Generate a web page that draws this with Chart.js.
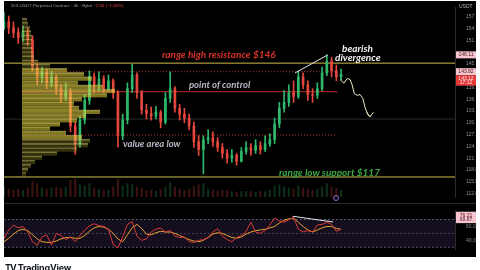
<!DOCTYPE html>
<html>
<head>
<meta charset="utf-8">
<script src="https://cdn.jsdelivr.net/npm/chart.js@4.4.1/dist/chart.umd.min.js"></script>
<style>
  body { margin: 0; width: 480px; height: 270px; background: #fff; position: relative; overflow: hidden; font-family: Lato, "Liberation Sans", sans-serif; }
  #panel { position: absolute; left: 4px; top: 1px; width: 472px; height: 256px; background: #000; }
  #panel canvas { position: absolute; left: 0; }
  #priceChart, #profileChart { top: 0; }
  #rsiChart { top: 203px; }
  #sep { position: absolute; left: 0; top: 202px; width: 472px; height: 1px; background: #2a2a2a; }
  .note { position: absolute; white-space: nowrap; line-height: 1; font-style: italic; font-weight: 700; font-size: 10px; }
  .tiny { position: absolute; white-space: nowrap; line-height: 1; font-family: "Liberation Sans", Arial, sans-serif; font-size: 4.4px; }
</style>
</head>
<body>
<div id="panel">
  <canvas id="priceChart" width="472" height="202"></canvas>
  <canvas id="profileChart" width="472" height="202"></canvas>
  <div id="sep"></div>
  <canvas id="rsiChart" width="472" height="53"></canvas>
</div>

<div class="tiny" style="left:11px;top:4px;color:#9598a1">SOLUSDT Perpetual Contract · 4h · Bybit <span style="color:#e0443c">−2.65 (−1.84%)</span></div>
<div class="tiny" style="left:459px;top:4px;color:#b2b5be;font-size:5px">USDT</div>

<div class="note" style="left:162px;top:49px;color:#d8332b">range high resistance $146</div>
<div class="note" style="left:342px;top:43px;color:#f2f2f2">bearish</div>
<div class="note" style="left:335px;top:52px;color:#f2f2f2">divergence</div>
<div class="note" style="left:189px;top:80px;color:#b9b6c4;font-size:9.5px">point of control</div>
<div class="note" style="left:123px;top:139px;color:#b9b6c4;font-size:9.5px">value area low</div>
<div class="note" style="left:279px;top:167px;color:#3aa845">range low support $117</div>

<div style="position:absolute;left:333px;top:195px;width:4px;height:4px;border:1px solid #9b6cd6;border-radius:50%"></div>

<div style="position:absolute;left:5px;top:262px;font:700 9px Inter,sans-serif;color:#131722;white-space:nowrap;letter-spacing:-0.2px"><span style="letter-spacing:-1px">TV</span> TradingView</div>

<script>
// days are counted from Nov 1 2025 (day 30 = Dec 1, day 61 = Jan 1, day 92 = Feb 1)
const firstDay = 6;
const firstOpen = 155.0;

// daily candles, Nov 7 .. Jan 17
const closes = [
  156.5, 155.0, 153.8, 152.5, 154.0, 152.0, 145.0, 142.5, 143.8, 141.0,
  142.5, 139.5, 137.5, 138.8, 130.0, 125.5, 131.5, 136.5, 142.5, 140.5,
  142.0, 139.5, 141.5, 138.5, 127.5, 131.5, 139.5, 143.0, 138.5, 134.0,
  133.2, 132.5, 133.5, 131.0, 137.0, 139.5, 134.5, 133.0, 132.0, 130.0,
  126.0, 124.0, 126.5, 127.0, 126.0, 124.5, 123.0, 121.8, 122.5, 121.0,
  123.5, 124.5, 123.8, 125.0, 124.0, 125.5, 126.5, 130.5, 134.5, 136.0,
  138.5, 137.5, 142.5, 140.5, 138.0, 137.8, 139.5, 143.5, 146.5, 144.0,
  142.5, 143.12
];
const highs = [
  159.0, 158.0, 156.5, 155.0, 155.5, 155.0, 153.0, 146.0, 145.0, 144.5,
  144.0, 143.0, 140.5, 141.0, 139.5, 131.0, 132.5, 138.0, 144.0, 143.5,
  143.8, 142.8, 143.0, 142.0, 139.0, 133.0, 141.0, 145.7, 143.5, 139.0,
  135.5, 134.8, 135.0, 134.0, 138.5, 143.8, 140.0, 135.5, 134.5, 133.0,
  131.0, 127.5, 127.5, 129.0, 128.5, 127.0, 125.5, 124.0, 124.0, 123.0,
  124.5, 126.0, 125.5, 126.5, 126.0, 127.5, 128.0, 132.0, 136.0, 139.0,
  140.5, 141.5, 144.0, 143.5, 141.5, 139.5, 141.0, 145.0, 148.1, 147.5,
  145.5, 144.5
];
const lows = [
  154.5, 153.5, 152.5, 151.0, 151.5, 150.5, 144.0, 140.5, 141.0, 139.5,
  140.0, 138.0, 136.0, 136.5, 128.5, 122.8, 124.5, 130.5, 135.5, 138.5,
  139.0, 138.5, 139.0, 137.0, 124.6, 126.5, 130.5, 138.5, 137.0, 133.0,
  131.8, 131.5, 131.8, 129.5, 130.5, 136.0, 133.5, 131.5, 130.8, 129.0,
  124.5, 122.5, 117.8, 125.5, 124.8, 123.5, 121.8, 120.5, 120.8, 120.0,
  120.8, 122.8, 122.5, 123.0, 122.8, 123.5, 124.8, 125.5, 129.5, 133.5,
  135.0, 136.0, 137.0, 139.5, 136.5, 136.0, 137.0, 139.0, 142.8, 142.5,
  141.5, 141.8
];
const volumes = [
  9, 7, 6, 7, 6, 8, 14, 12, 8, 7,
  8, 9, 8, 9, 15, 16, 11, 10, 12, 8,
  7, 6, 6, 9, 16, 10, 12, 11, 9, 8,
  6, 6, 5, 7, 9, 13, 9, 7, 6, 7,
  10, 11, 12, 7, 6, 5, 6, 6, 5, 4,
  5, 5, 5, 4, 5, 5, 6, 10, 11, 9,
  8, 7, 10, 8, 7, 6, 7, 9, 12, 9,
  8, 6
];
const rsiValues = [
  42, 55, 62, 58, 60, 52, 38, 33, 45, 48,
  33, 50, 47, 41, 45, 38, 47, 55, 61, 64,
  61, 60, 56, 34, 29, 45, 63, 67, 46, 40,
  42, 52, 56, 58, 52, 54, 46, 44, 45, 38,
  37, 40, 41, 44, 52, 57, 46, 41, 38, 44,
  47, 53, 66, 52, 50, 54, 62, 72, 68, 66,
  70, 73, 56, 52, 54, 52, 62, 63, 66, 63,
  53, 56
];
const rsiMa = [
  38, 43, 49, 54, 56, 54, 48, 42, 38, 37,
  37, 39, 42, 44, 44, 43, 43, 47, 53, 58,
  60, 59, 56, 50, 42, 38, 48, 58, 63, 57,
  49, 48, 51, 53, 52, 52, 50, 47, 44, 41,
  39, 38, 40, 44, 49, 51, 50, 47, 44, 43,
  45, 49, 52, 54, 55, 56, 58, 60, 65, 69,
  71, 72, 66, 60, 55, 52, 55, 58, 60, 60,
  57, 56
];

// fixed range volume profile
const profilePrices = [
  118.7, 119.7, 120.7, 121.7, 122.7, 123.7, 124.7, 125.7, 126.7, 127.7,
  128.7, 129.7, 130.7, 131.7, 132.7, 133.7, 134.7, 135.7, 136.7, 137.7,
  138.7, 139.7, 140.7, 141.7, 142.7, 143.7, 144.7, 145.7, 146.7, 147.7,
  148.7, 149.7, 150.7, 151.7, 152.7, 153.7, 154.7, 155.7
];
const profileVolumes = [
  4, 6, 9, 13, 20, 35, 55, 66, 68, 60,
  44, 28, 38, 55, 64, 78, 57, 52, 60, 85,
  93, 81, 56, 70, 62, 45, 28, 16, 12, 11,
  10, 9, 10, 10, 9, 8, 6, 5
];
const profileStartDay = 9.8;
const profileEndDay = 76.2;

const rangeHigh = 146;
const rangeLow = 117;
const valueAreaHigh = 143.82;
const pointOfControl = 138.72;
const valueAreaLow = 127.69;
const midRange = 131.76;

// drawn lines
const divDays = [67.3, 74.2];
const divPrices = [143.5, 148.1];
const rsiDivDays = [66.8, 75.3];
const rsiDivValues = [74.7, 66.5];
const pathDays = [76.8, 77.6, 78.3, 78.9, 79.3, 79.8, 80.4, 81.0, 81.6, 82.0, 82.6, 83.1];
const pathPrices = [141.8, 140.9, 142.1, 141.8, 140.6, 138.2, 137.8, 138.0, 137.0, 134.9, 133.0, 132.3];
const arrowDays = [82.4, 83.1, 83.8];
const arrowPrices = [133.5, 132.3, 133.5];

// axes
const priceMin = 111.9, priceMax = 160.3;
const rsiMin = 27.5, rsiMax = 83.75;
const dayMin = 6, dayMax = 101;
const priceTicks = [112.8, 115.8, 118.8, 121.8, 124.8, 127.8, 130.8, 133.8, 136.8, 139.8, 145.8, 151.8, 154.8, 157.8];
const rsiTicks = [40, 60];
const rsiLevels = [70, 50, 30];
const timeTickDays = [10, 14, 18, 22, 26, 30, 34, 38, 42, 46, 50, 54, 61, 65, 69, 73, 77, 81, 85, 92, 96, 100];
const timeTickLabels = ['11', '15', '19', '23', '27', 'Dec', '5', '9', '13', '17', '21', '25', '2026', '5', '9', '13', '17', '21', '25', 'Feb', '5', '9'];
const taggedPrices = [148.11, 143.82];
const lastPrice = 143.12;
const countdown = '17:12';
const rsiTags = [76.21, 69.87];

// ---- build ----
const opens = closes.map((c, i) => i === 0 ? firstOpen : closes[i - 1]);
const UP = '#2fb86c', DOWN = '#e4473d';
const candleColors = closes.map((c, i) => c >= opens[i] ? UP : DOWN);
const volColors = closes.map((c, i) => c >= opens[i] ? 'rgba(47,150,90,0.3)' : 'rgba(200,60,55,0.3)');
const pts = (xs, ys) => xs.map((x, i) => ({ x: x, y: ys[i] }));
const hline = (v, a, b) => [{ x: a, y: v }, { x: b, y: v }];
const tickFont = { family: '"Liberation Sans", Arial, sans-serif', size: 5 };

function lineSet(data, color, order, extra) {
    return Object.assign({ type: 'line', data: data, borderColor: color, borderWidth: 1,
        pointRadius: 0, tension: 0, fill: false, order: order }, extra || {});
}

// Draws the coloured price tags on the price axis
const priceTags = {
    id: 'priceTags',
    afterDraw(chart) {
        const ctx = chart.ctx, y = chart.scales.y;
        const left = chart.chartArea.right + 1, w = chart.width - left;
        ctx.save();
        ctx.font = '5px "Liberation Sans", Arial';
        ctx.textAlign = 'center';
        ctx.textBaseline = 'middle';
        let bottom = 0;
        taggedPrices.forEach(v => {
            const py = y.getPixelForValue(v);
            ctx.fillStyle = '#f7c5cf';
            ctx.fillRect(left, py - 3.5, w, 7);
            ctx.fillStyle = '#4a1822';
            ctx.fillText(v.toFixed(2), left + w / 2, py);
            bottom = Math.max(bottom, py + 3.5);
        });
        const ly = Math.max(y.getPixelForValue(lastPrice) - 3.5, bottom);
        ctx.fillStyle = '#e53a3a';
        ctx.fillRect(left, ly, w, 10.5);
        ctx.fillStyle = '#ffe3e3';
        ctx.fillText(lastPrice.toFixed(2), left + w / 2, ly + 3);
        ctx.fillText(countdown, left + w / 2, ly + 7.8);
        ctx.restore();
    }
};

const rsiTagPlugin = {
    id: 'rsiTags',
    afterDraw(chart) {
        const ctx = chart.ctx, y = chart.scales.y;
        const left = chart.chartArea.right + 1, w = chart.width - left;
        const top = y.getPixelForValue(rsiTags[0]) - 3.5;
        const bot = y.getPixelForValue(rsiTags[rsiTags.length - 1]) + 3.5;
        ctx.save();
        ctx.fillStyle = '#f7c5cf';
        ctx.fillRect(left, top, w, bot - top);
        ctx.font = '5px "Liberation Sans", Arial';
        ctx.textAlign = 'center';
        ctx.textBaseline = 'middle';
        ctx.fillStyle = '#4a1822';
        rsiTags.forEach(v => ctx.fillText(v.toFixed(2), left + w / 2, y.getPixelForValue(v)));
        ctx.restore();
    }
};

const wicks = closes.map((c, i) => ({ x: firstDay + i, y: [lows[i], highs[i]] }));
const bodies = closes.map((c, i) => ({ x: firstDay + i, y: [opens[i], c] }));
const vols = volumes.map((v, i) => ({ x: firstDay + i, y: v }));

new Chart(document.getElementById('priceChart'), {
    type: 'bar',
    data: {
        datasets: [
            lineSet(pts(pathDays, pathPrices), '#efe9c4', 0),
            lineSet(pts(arrowDays, arrowPrices), '#efe9c4', 0),
            lineSet(pts(divDays, divPrices), '#e6e6e6', 0),
            { type: 'bar', data: bodies, backgroundColor: candleColors, barThickness: 2, minBarLength: 1, grouped: false, order: 2 },
            { type: 'bar', data: wicks, backgroundColor: candleColors, barThickness: 1, grouped: false, order: 3 },
            lineSet(hline(rangeHigh, dayMin, dayMax), '#cbbd4c', 4),
            lineSet(hline(rangeLow, dayMin, dayMax), '#cbbd4c', 4),
            lineSet(hline(pointOfControl, profileStartDay, profileEndDay), '#c42a2a', 4),
            lineSet(hline(valueAreaHigh, profileStartDay, profileEndDay), '#b83030', 4, { borderDash: [1, 2] }),
            lineSet(hline(valueAreaLow, profileStartDay, profileEndDay), '#b83030', 4, { borderDash: [1, 2] }),
            lineSet(hline(midRange, dayMin, dayMax), '#2e2e2e', 5),
            { type: 'bar', yAxisID: 'yv', data: vols, backgroundColor: volColors, barThickness: 1.5, grouped: false, order: 6 }
        ]
    },
    options: {
        responsive: false,
        animation: false,
        layout: { padding: 0 },
        plugins: { legend: { display: false }, tooltip: { enabled: false } },
        scales: {
            x: { type: 'linear', min: dayMin, max: dayMax, display: false, offset: false },
            y: {
                type: 'linear', position: 'right', min: priceMin, max: priceMax,
                grid: { display: false },
                border: { display: true, color: '#2b2b2b' },
                ticks: { font: tickFont, color: '#8c8f98', padding: 3, callback: v => v.toFixed(2) },
                afterBuildTicks: s => { s.ticks = priceTicks.map(v => ({ value: v })); },
                afterFit: s => { s.width = 21; }
            },
            yv: { type: 'linear', display: false, min: 0, max: 170 }
        }
    },
    plugins: [priceTags]
});

new Chart(document.getElementById('profileChart'), {
    type: 'bar',
    data: {
        datasets: [{
            data: profilePrices.map((p, i) => ({ x: profileVolumes[i], y: p })),
            backgroundColor: profilePrices.map(p => (p >= valueAreaLow - 0.1 && p <= valueAreaHigh) ? 'rgba(222,208,56,0.55)' : 'rgba(160,150,34,0.32)'),
            borderColor: 'rgba(245,235,140,0.45)',
            borderWidth: { top: 1, right: 0, bottom: 0, left: 0 },
            borderSkipped: false,
            barPercentage: 1,
            categoryPercentage: 1
        }]
    },
    options: {
        indexAxis: 'y',
        responsive: false,
        animation: false,
        layout: { padding: { left: 18, right: 21, top: 0, bottom: 0 } },
        plugins: { legend: { display: false }, tooltip: { enabled: false } },
        scales: {
            y: { type: 'linear', min: priceMin, max: priceMax, display: false, offset: false },
            x: { type: 'linear', min: 0, max: 433, display: false }
        }
    }
});

const rsiData = rsiValues.map((v, i) => ({ x: firstDay + i, y: v }));
const maData = rsiMa.map((v, i) => ({ x: firstDay + i, y: v }));

new Chart(document.getElementById('rsiChart'), {
    type: 'line',
    data: {
        datasets: [
            lineSet(pts(rsiDivDays, rsiDivValues), '#e8e8e8', 0),
            lineSet(rsiData, '#d93a3a', 1),
            lineSet(maData, '#e9a431', 2),
            lineSet(hline(rsiLevels[0], dayMin, dayMax), '#55556a', 3, { borderDash: [2, 2] }),
            lineSet(hline(rsiLevels[1], dayMin, dayMax), '#45455a', 3, { borderDash: [2, 2] }),
            lineSet(hline(rsiLevels[2], dayMin, dayMax), '#55556a', 3, { borderDash: [2, 2], fill: { value: rsiLevels[0] }, backgroundColor: 'rgba(126,87,194,0.16)' })
        ]
    },
    options: {
        responsive: false,
        animation: false,
        layout: { padding: 0 },
        plugins: { legend: { display: false }, tooltip: { enabled: false } },
        scales: {
            x: {
                type: 'linear', min: dayMin, max: dayMax, offset: false,
                grid: { display: false }, border: { display: false },
                ticks: { font: tickFont, color: '#80838c', padding: 1, maxRotation: 0, autoSkip: false,
                    callback: v => timeTickLabels[timeTickDays.indexOf(v)] },
                afterBuildTicks: s => { s.ticks = timeTickDays.map(v => ({ value: v })); },
                afterFit: s => { s.height = 8; }
            },
            y: {
                type: 'linear', position: 'right', min: rsiMin, max: rsiMax,
                grid: { display: false },
                border: { display: true, color: '#2b2b2b' },
                ticks: { font: tickFont, color: '#8c8f98', padding: 3, callback: v => v.toFixed(2) },
                afterBuildTicks: s => { s.ticks = rsiTicks.map(v => ({ value: v })); },
                afterFit: s => { s.width = 21; }
            }
        }
    },
    plugins: [rsiTagPlugin]
});
</script>
</body>
</html>
